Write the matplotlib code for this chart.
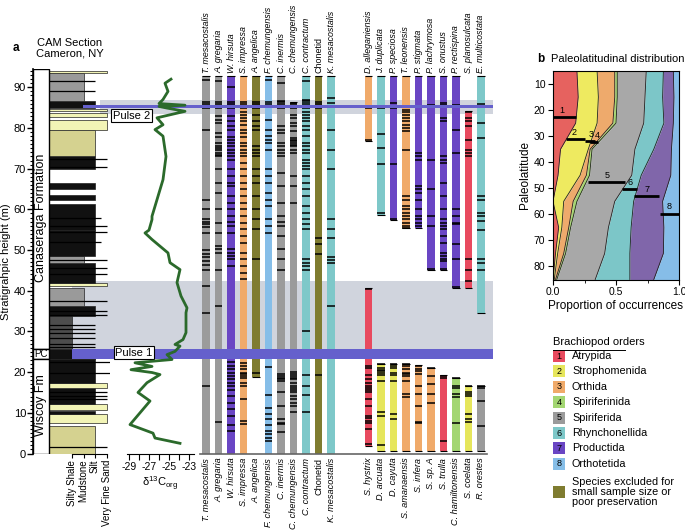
import numpy as np
import matplotlib
matplotlib.use("Agg")
import matplotlib.pyplot as plt
from matplotlib.patches import Rectangle

plt.rcParams.update({'font.family': ['Liberation Sans', 'DejaVu Sans'], 'font.size': 8,
                     'mathtext.fontset': 'custom', 'mathtext.rm': 'Liberation Sans',
                     'mathtext.it': 'Liberation Sans:italic'})

# ---------------- lithology (m) ----------------
bed_bottom = [0.0, 7.4, 9.6, 10.8, 12.1, 13.3, 16.1, 17.4, 23.3, 25.8, 33.7, 36.2, 41.1, 41.9, 46.8,
              48.5, 55.0, 62.4, 64.9, 69.8, 73.0, 79.6, 82.7, 84.1, 85.0, 86.6, 93.5]
bed_top = [6.8, 9.6, 10.4, 12.1, 13.3, 16.1, 17.4, 23.3, 25.8, 33.7, 36.2, 40.7, 41.9, 46.8, 48.5,
           55.0, 61.2, 63.6, 66.5, 73.0, 79.6, 82.0, 83.7, 84.7, 86.6, 93.5, 93.9]
bed_type = ['silt', 'sand', 'blk', 'sand', 'blk', 'blk', 'sand', 'blk', 'blk', 'sh', 'blk', 'mud', 'sand',
            'blk', 'mud', 'blk', 'blk', 'blk', 'blk', 'blk', 'silt', 'sand', 'sand', 'sand', 'blk',
            'mud', 'sand']
thin_h = [91.5, 89.0, 72.5, 70.5, 58.0, 56.0, 54.5, 52.0, 47.5, 45.5, 44.0, 37.5, 35.0, 34.0, 31.5,
          30.5, 29.5, 28.5, 27.0, 26.2, 22.5, 19.8, 15.0, 14.2, 13.5, 1.5]
thin_w = [4, 4, 5, 5, 4.5, 5, 5, 4.5, 5, 5, 5, 5, 5, 5, 4, 4, 4, 4, 4, 4, 5.6, 5.6, 5, 5, 5, 5]
lith_color = {'blk': '#111111', 'sh': '#4d4d4d', 'mud': '#9a9a9a', 'silt': '#d5d290', 'sand': '#f2f4b6'}
grain = {'sh': 2, 'mud': 3, 'blk': 4, 'silt': 4, 'sand': 5}
grain_labels = ["Silty Shale", "Mudstone", "Silt", "Very Fine Sand"]

# ---------------- carbon isotopes ----------------
c_height = [2.5, 3.8, 5.0, 7.1, 12.9, 15.0, 17.4, 19.4, 19.9, 20.6, 21.4, 22.3, 23.1, 24.3, 25.1, 26.4,
            26.8, 28.0, 29.7, 34.6, 35.8, 38.7, 42.0, 45.2, 46.9, 49.3, 52.6, 54.2, 54.9, 57.5, 58.3,
            67.3, 73.0, 78.0, 79.6, 80.8, 82.5, 84.1, 84.9, 85.3, 85.6, 86.0, 87.0, 89.0, 91.0, 92.0]
c_value = [-23.9, -26.4, -26.6, -28.9, -26.9, -28.1, -27.2, -25.9, -26.7, -28.8, -26.7, -28.4, -24.7,
           -25.2, -24.4, -23.9, -24.4, -23.6, -23.3, -23.3, -23.2, -23.8, -24.2, -23.9, -24.9, -25.1,
           -26.7, -27.4, -27.0, -26.7, -26.7, -25.6, -25.3, -25.6, -26.4, -25.6, -26.2, -23.4, -25.2,
           -26.0, -23.4, -26.0, -25.6, -25.1, -25.4, -24.8]

# ---------------- species ranges ----------------
order_color = {1: '#e84a5f', 2: '#e6e65c', 3: '#f0aa6a', 4: '#a3d672', 5: '#9b9b9b',
               6: '#7ec8c9', 7: '#6a46c4', 8: '#86bee8', 0: '#7f7c30'}
lat_color = {1: '#e6625f', 2: '#eeea60', 3: '#eeaa6c', 4: '#a6d672', 5: '#a8a8a8',
             6: '#7cc6c8', 7: '#8066aa', 8: '#86bde8'}
sp_name = ["T. mesacostalis", "A. gregaria", "W. hirsuta", "S. impressa", "A. angelica",
           "F. chemungensis", "C. inermis", "C. chemungensis", "C. contractum", "Chonetid",
           "K. mesacostalis",
           "D. alleganiensis", "J. duplicata", "P. speciosa", "T. leonensis", "P. stigmata",
           "P. lachrymosa", "S. onustus", "P. rectispina", "S. planosulcata", "E. multicostata",
           "S. hystrix", "D. arcuata", "D. cayuta", "S. amanaensis", "S. infera", "S. sp. A",
           "S. trulla", "C. hamiltonensis", "S. coelata", "R. orestes"]
sp_col = [0, 1, 2, 3, 4, 5, 6, 7, 8, 9, 10,
          13, 14, 15, 16, 17, 18, 19, 20, 21, 22,
          13, 14, 15, 16, 17, 18, 19, 20, 21, 22]
sp_order = [5, 5, 7, 3, 0, 8, 5, 5, 6, 0, 6,
            3, 6, 7, 3, 7, 7, 7, 7, 1, 6,
            1, 2, 2, 3, 3, 3, 1, 4, 2, 5]
sp_bottom = [0, 0, 0, 0, 18.7, 0, 0, 0, 0, 0, 0,
             76.7, 58.7, 57.5, 55.4, 55.3, 45.2, 45.1, 40.7, 40.7, 34.5,
             1.8, 0.5, 0.5, 0.5, 0.5, 0.5, 0.5, 0.5, 0.5, 0.5]
sp_top = [92.8, 92.8, 92.8, 92.8, 92.8, 92.8, 92.8, 86.5, 92.8, 92.8, 92.8,
          92.8, 92.8, 92.8, 92.8, 92.8, 92.8, 92.8, 92.8, 84.1, 92.8,
          40.7, 22.1, 22.1, 22.1, 21.7, 21.0, 19.2, 18.5, 16.6, 16.6]
sp_occ = [
    [91.8, 86.3, 85.8, 85.3, 84.8, 79.6, 62.4, 60.0, 57.6, 57.0, 56.4, 55.6, 54.2, 50.0, 49.0, 48.2,
     47.4, 46.4, 45.2, 41.1, 34.6, 23.9, 16.6],
    [91.5, 86.3, 85.8, 85.3, 84.8, 83.0, 82.0, 81.2, 78.8, 77.9, 76.3, 75.5, 75.0, 74.5, 73.9, 73.4,
     73.0, 69.8, 66.5, 64.1, 60.0, 56.7, 54.2, 51.0, 50.2, 49.3, 45.2, 36.2, 7.7],
    [90.0, 86.3, 85.8, 85.3, 84.8, 82.9, 81.6, 80.4, 79.6, 77.9, 77.1, 76.3, 75.5, 74.7, 73.9, 73.0,
     72.2, 69.8, 68.1, 66.5, 65.7, 63.2, 61.6, 60.0, 58.4, 57.0, 55.9, 54.2, 50.2, 49.3, 48.5, 47.7,
     46.0, 22.5, 21.5, 20.7, 19.9, 19.0, 18.2, 17.4, 16.6, 15.5, 14.2, 12.5, 10.9, 9.2, 7.1, 5.5],
    [86.3, 85.8, 85.3, 84.8, 84.0, 83.2, 82.4, 81.6, 80.8, 79.6, 78.8, 77.9, 76.3, 75.5, 74.7, 73.9,
     73.0, 71.4, 69.8, 68.1, 66.5, 64.9, 63.2, 61.6, 60.0, 58.4, 56.7, 55.1, 53.4, 51.8, 49.3, 47.7,
     46.0, 44.4, 42.8, 24.8, 22.3, 21.5, 20.7, 19.9, 19.5, 19.0, 18.6, 17.4, 16.6, 13.3, 8.0, 7.2],
    [86.3, 85.8, 85.3, 84.8, 83.2, 81.6, 80.4, 79.6, 75.5, 74.7, 73.9, 73.0, 69.8, 68.1, 66.5, 63.2,
     60.0, 57.6, 55.1, 47.7, 19.9],
    [91.8, 86.3, 85.8, 85.3, 82.0, 79.6, 78.0, 77.1, 76.3, 74.7, 69.8, 68.1, 66.5, 64.1, 62.4, 60.8,
     57.6, 55.9, 54.2, 21.2, 14.5, 11.3, 9.6, 8.4, 7.0, 5.5, 4.7, 3.9, 3.0],
    [91.1, 86.6, 86.3, 85.8, 85.3, 84.8, 80.4, 79.6, 78.8, 76.3, 75.5, 74.7, 73.9, 73.0, 69.0, 65.7,
     61.6, 58.4, 57.0, 55.9, 53.4, 50.2, 47.7, 45.2, 19.5, 19.0, 18.6, 18.2, 17.8, 15.0, 11.7, 8.4,
     7.6, 7.2, 5.2],
    [86.2, 85.8, 85.3, 84.8, 83.2, 82.4, 81.2, 80.4, 79.2, 77.5, 77.1, 76.7, 76.3, 75.9, 75.5, 74.7,
     73.9, 68.1, 65.7, 61.6, 20.0, 19.5, 19.0, 18.6, 18.2, 17.4, 16.6, 16.0, 15.5, 15.0, 14.2, 13.3,
     12.5, 11.7, 10.1],
    [91.5, 87.0, 86.6, 86.1, 85.7, 85.3, 84.8, 84.0, 83.2, 82.4, 81.6, 80.4, 79.6, 78.0, 76.3, 75.5,
     74.7, 73.9, 72.2, 71.4, 70.6, 69.8, 68.1, 66.5, 64.9, 63.2, 60.8, 59.2, 57.6, 56.4, 55.1, 47.7,
     46.8, 46.0, 45.2, 30.2, 19.4, 16.6, 14.5, 10.1],
    [86.3, 85.8, 85.3, 84.8, 53.0, 51.5, 49.0, 19.2],
    [87.4, 86.2, 79.6, 74.7, 69.8, 57.6, 55.1, 53.0, 48.2, 47.5, 46.8, 36.2],
    [85.0, 77.1],
    [85.0, 78.5, 75.2, 71.1, 59.0],
    [86.1, 85.0, 71.1, 57.6],
    [85.3, 84.5, 84.0, 83.2, 82.4, 81.6, 80.8, 80.0, 79.2, 74.7, 63.2, 62.4, 60.8, 60.0, 59.2, 58.4,
     57.6, 56.7, 55.9, 55.5],
    [85.3, 73.9, 73.0, 72.2, 65.7, 64.9, 64.1, 62.4, 60.0, 58.4, 57.6, 56.7, 55.9],
    [85.6, 72.2, 64.9, 58.4, 55.9, 45.4],
    [86.1, 85.7, 85.3, 82.4, 81.6, 73.0, 72.2, 71.4, 66.5, 63.2, 60.0, 57.6, 56.7, 55.9, 55.1, 53.4,
     51.8, 49.3, 48.5, 47.7, 47.2, 45.4],
    [85.7, 85.2, 79.6, 73.9, 60.0, 58.4, 56.7, 56.3, 51.4, 47.7, 41.0],
    [83.9, 82.4, 81.6, 80.4, 77.1, 74.7, 73.9, 73.0, 47.7, 45.2, 42.3],
    [86.0, 85.3, 81.2, 77.5, 63.2, 62.4, 59.2, 58.3, 57.1, 55.0, 47.7, 46.9, 45.2],
    [40.5, 21.5, 21.0, 19.2, 18.2, 17.4, 16.6, 16.0, 15.5, 15.0, 13.3, 11.7, 9.3, 8.8, 8.0, 7.5, 6.0, 2.3],
    [22.0, 21.0, 20.6, 20.2, 19.8, 19.4, 17.8, 10.1, 9.3, 2.2],
    [22.0, 21.4, 21.0, 19.9, 19.2, 17.8, 9.6, 8.4],
    [22.0, 21.4, 20.7, 19.9, 19.5, 19.1, 17.8, 14.6, 13.8],
    [21.5, 20.7, 20.2, 19.5, 16.6, 14.6, 11.7, 7.8, 7.4],
    [21.0, 19.0, 17.0, 14.6, 12.5],
    [19.0, 18.5, 3.1],
    [18.5, 16.6, 16.0, 14.6, 13.8, 7.6],
    [16.5, 15.0, 14.6, 14.2, 9.6, 8.4, 7.8],
    [16.5, 16.0, 13.0, 6.8],
]
bottom_names = sp_name[:11] + sp_name[21:]
bottom_cols = sp_col[:11] + sp_col[21:]

# events (m)
pulse1 = (23.3, 25.8)
gray_band = (25.8, 42.5)
pulse2 = (85.0, 85.6)
pulse2_band = (83.5, 86.8)

# ---------------- paleolatitude panel ----------------
lat = [5, 15, 25, 35, 45, 55, 65, 75, 85]
cum = [
    [0.19, 0.20, 0.18, 0.06, 0.04, 0.00, 0.045, 0.02, 0.00],
    [0.35, 0.36, 0.35, 0.28, 0.215, 0.085, 0.07, 0.037, 0.01],
    [0.49, 0.49, 0.475, 0.295, 0.265, 0.16, 0.125, 0.085, 0.02],
    [0.51, 0.51, 0.50, 0.31, 0.29, 0.19, 0.14, 0.10, 0.03],
    [0.74, 0.73, 0.72, 0.65, 0.625, 0.49, 0.44, 0.41, 0.335],
    [0.876, 0.87, 0.88, 0.80, 0.70, 0.64, 0.62, 0.61, 0.61],
    [0.955, 0.96, 0.955, 0.94, 0.935, 0.87, 0.88, 0.876, 0.80],
    [1, 1, 1, 1, 1, 1, 1, 1, 1],
]
mean_lat = [22.7, 31.2, 31.8, 32.4, 47.7, 50.2, 53.1, 59.7]
mean_x0 = [0.0, 0.10, 0.25, 0.295, 0.28, 0.55, 0.64, 0.85]
mean_x1 = [0.18, 0.25, 0.335, 0.355, 0.57, 0.67, 0.84, 1.0]
mean_lab_x = [0.07, 0.165, 0.30, 0.355, 0.43, 0.61, 0.75, 0.92]
order_names = ["Atrypida", "Strophomenida", "Orthida", "Spiriferinida", "Spiriferida",
               "Rhynchonellida", "Productida", "Orthotetida"]

W, H = 685, 530
fig = plt.figure(figsize=(W / 100, H / 100), dpi=100)


def box(l, t, r, b):
    return [l / W, 1 - b / H, (r - l) / W, (b - t) / H]


YMAX = 94.5
px_l, px_r = 33, 495


def fx(px):
    return (px - px_l) / (px_r - px_l)


# background bands
ax_bg = fig.add_axes(box(px_l, 69, px_r, 453.5), zorder=0)
ax_bg.set_xlim(0, 1)
ax_bg.set_ylim(0, YMAX)
ax_bg.axis('off')
ax_bg.axhspan(*gray_band, xmin=fx(72), xmax=fx(493), color='#d0d4dd', lw=0)
ax_bg.axhspan(*pulse2_band, xmin=fx(100), xmax=fx(493), color='#d0d4dd', lw=0)

# lithology
ax_l = fig.add_axes(box(33, 69, 110, 453.5), zorder=1)
ax_l.patch.set_alpha(0)
ax_l.set_xlim(-1.4, 5.3)
ax_l.set_ylim(0, YMAX)
for b, t, k in zip(bed_bottom, bed_top, bed_type):
    ax_l.add_patch(Rectangle((0, b), grain[k], t - b, fc=lith_color[k], ec='#222222', lw=0.5))
ax_l.hlines(thin_h, 0, thin_w, color='k', lw=0.9)
for b, t in [(25.8, YMAX), (23.3, 25.8), (0, 23.3)]:
    ax_l.add_patch(Rectangle((-1.4, b), 1.4, t - b, fc='white', ec='k', lw=1))
ax_l.text(-0.7, 58, "Canaseraga Formation", rotation=90, ha='center', va='center', fontsize=9)
ax_l.text(-0.7, 24.55, "PC", ha='center', va='center', fontsize=7)
ax_l.text(-0.7, 12, "Wiscoy Fm", rotation=90, ha='center', va='center', fontsize=9)
for s in ['top', 'right']:
    ax_l.spines[s].set_visible(False)
ax_l.spines['left'].set_linewidth(1.2)
ax_l.spines['bottom'].set_bounds(2, 5)
ax_l.set_xticks([2, 3, 4, 5])
ax_l.set_xticklabels(grain_labels, rotation=90, fontsize=7)
ax_l.tick_params(axis='x', length=3, pad=1.5)
ax_l.set_yticks(np.arange(0, 91, 10))
ax_l.set_yticks(np.arange(0, 95, 1), minor=True)
ax_l.tick_params(axis='y', which='major', length=4, width=1, labelsize=8, pad=1)
ax_l.tick_params(axis='y', which='minor', length=2, width=0.8)
ax_l.set_ylabel("Stratigrahpic height (m)", fontsize=8)
ax_l.yaxis.set_label_coords(-0.285, 0.5)

# ranges
ax_r = fig.add_axes(box(200, 69, 487, 453.5), zorder=1)
ax_r.patch.set_alpha(0)
ax_r.set_xlim(-0.5, 22.5)
ax_r.set_ylim(0, YMAX)
bw = 0.6
for col, o, b, t, occ in zip(sp_col, sp_order, sp_bottom, sp_top, sp_occ):
    ax_r.bar(col, t - b, bottom=b, width=bw, color=order_color[o], lw=0)
    ax_r.hlines(occ, col - bw / 2, col + bw / 2, color='k', lw=1.1)
    ax_r.hlines([b, t], col - bw / 2, col + bw / 2, color='k', lw=0.8)
for col, name in zip(sp_col[:21], sp_name[:21]):
    ax_r.text(col, 93.6, name, rotation=90, ha='center', va='bottom', fontsize=6.4,
              style='normal' if name == 'Chonetid' else 'italic')
ax_r.set_xticks(bottom_cols)
ax_r.set_xticklabels(bottom_names, rotation=90, fontsize=6.6)
for lab in ax_r.get_xticklabels():
    if lab.get_text() != 'Chonetid':
        lab.set_style('italic')
ax_r.tick_params(axis='x', length=0, pad=3)
ax_r.set_yticks([])
for s in ['top', 'right', 'left']:
    ax_r.spines[s].set_visible(False)
ax_r.spines['bottom'].set_color('#666666')
ax_r.spines['bottom'].set_linewidth(1.2)

# foreground pulses
ax_fg = fig.add_axes(box(px_l, 69, px_r, 453.5), zorder=2)
ax_fg.set_xlim(0, 1)
ax_fg.set_ylim(0, YMAX)
ax_fg.axis('off')
ax_fg.axhspan(*pulse1, xmin=fx(72), xmax=fx(493), color='#6560cc', lw=0)
ax_fg.axhspan(*pulse2, xmin=fx(83), xmax=fx(493), color='#6560cc', lw=0)
bbox = dict(boxstyle='square,pad=0.15', fc='white', ec='k', lw=0.8)
ax_fg.text(fx(131.5), 83.0, "Pulse 2", ha='center', va='center', fontsize=8, bbox=bbox)
ax_fg.text(fx(134), 24.8, "Pulse 1", ha='center', va='center', fontsize=8, bbox=bbox)

# carbon isotopes
ax_c = fig.add_axes(box(127, 69, 194, 453.5), zorder=3)
ax_c.patch.set_alpha(0)
ax_c.set_xlim(-29.2, -22.5)
ax_c.set_ylim(0, YMAX)
ax_c.plot(c_value, c_height, color='#2b6a2b', lw=2)
for s in ['top', 'right', 'left']:
    ax_c.spines[s].set_visible(False)
ax_c.set_yticks([])
ax_c.set_xticks(np.arange(-29, -22, 1))
ax_c.set_xticklabels(['-29', '', '-27', '', '-25', '', '-23'], fontsize=7.5)
ax_c.tick_params(axis='x', length=4, pad=2)
ax_c.set_xlabel(r"δ$^{13}$C$_{\mathrm{org}}$", fontsize=8, labelpad=2)

fig.text(13 / W, 1 - 48 / H, "a", fontsize=8.5, fontweight='bold', ha='left', va='center')
fig.text(70 / W, 1 - 48 / H, "CAM Section\nCameron, NY", fontsize=8, ha='center', va='center',
         linespacing=1.1)

# panel b
ax_b = fig.add_axes(box(553, 71, 679, 279.5))
ax_b.set_xlim(0, 1)
ax_b.set_ylim(85, 5)
left = [0] * len(lat)
for i, right in enumerate(cum):
    ax_b.fill_betweenx(lat, left, right, color=lat_color[i + 1], lw=0)
    ax_b.plot(right, lat, color='#222222', lw=0.6)
    left = right
for i in range(8):
    ax_b.hlines(mean_lat[i], mean_x0[i], mean_x1[i], color='k', lw=2)
    ax_b.text(mean_lab_x[i], mean_lat[i] - 0.8, str(i + 1), ha='center', va='bottom', fontsize=6.5)
ax_b.set_yticks(np.arange(10, 81, 10))
ax_b.set_xticks([0, 0.5, 1.0])
ax_b.set_xticklabels(['0.0', '0.5', '1.0'])
ax_b.set_xticks([0.25, 0.75], minor=True)
ax_b.tick_params(labelsize=7.5, length=3.5, pad=2)
ax_b.tick_params(which='minor', length=2.5)
ax_b.set_ylabel("Paleolatitude", fontsize=8.5, labelpad=2)
ax_b.set_xlabel("Proportion of occurrences", fontsize=8.5, labelpad=2)
fig.text(537 / W, 1 - 59 / H, "b", fontsize=8.5, fontweight='bold', ha='left', va='center')
fig.text(551 / W, 1 - 59 / H, "Paleolatitudinal distribution", fontsize=8, ha='left', va='center')

# legend
ax_g = fig.add_axes(box(548, 330, 685, 525))
ax_g.set_xlim(0, 137)
ax_g.set_ylim(10.97, -1.69)
ax_g.axis('off')
ax_g.text(5, -0.92, "Brachiopod orders", fontsize=8, ha='left', va='center')
ax_g.plot([5, 77], [-0.4, -0.4], color='k', lw=0.7)
for i, nm in enumerate(order_names):
    ax_g.add_patch(Rectangle((5, i - 0.39), 12, 0.78, fc=order_color[i + 1], lw=0))
    ax_g.text(11, i, str(i + 1), ha='center', va='center', fontsize=6.5)
    ax_g.text(24, i, nm, ha='left', va='center', fontsize=7.8)
ax_g.add_patch(Rectangle((5, 8.83 - 0.39), 12, 0.78, fc=order_color[0], lw=0))
ax_g.text(24, 8.83, "Species excluded for\nsmall sample size or\npoor preservation", ha='left',
          va='center', fontsize=7.8, linespacing=1.05)

fig.savefig("out.png", dpi=100)
